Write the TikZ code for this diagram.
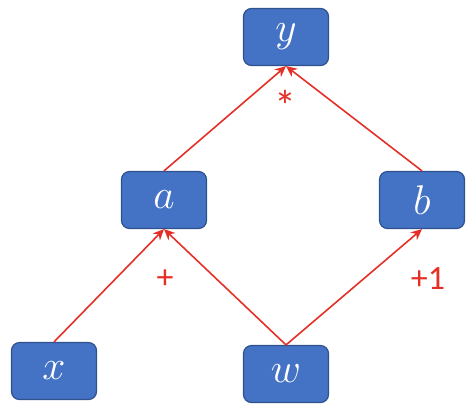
\documentclass[tikz,border=0pt]{standalone}
\usepackage{fontspec}
\setmainfont{Carlito}
\usepackage{tikz}
\usetikzlibrary{arrows.meta}
\usetikzlibrary{positioning}
\definecolor{varfill}{HTML}{4472C4}
\definecolor{varborder}{HTML}{2F528F}
\definecolor{flowred}{RGB}{228,48,38}
\tikzset{
    var/.style={
        draw=varborder,
        fill=varfill,
        rounded corners=4pt,
        line width=0.6pt,
        minimum width=42.5pt,
        minimum height=28.5pt,
        text=white,
        font=\fontsize{22}{24}\selectfont
    },
    flow/.style={
        draw=flowred,
        -{Stealth[length=5.5pt, width=5pt]},
        line width=0.8pt
    },
    op/.style={
        text=flowred,
        font=\fontsize{17}{20}\selectfont
    }
}

\begin{document}
\begin{tikzpicture}[x=0.5pt, y=-0.5pt]
  \useasboundingbox (0,0) rectangle (474,413);

  % Variables
  \node[var] (y) at (286,37) {$y$};
  \node[var] (a) at (164,200) {$a$};
  \node[var] (b) at (422,200) {$b$};
  \node[var] (x) at (54,371) {$x$};
  \node[var] (w) at (286,374) {$w$};

  % Operations
  \draw[flow] (a.north) -- (y.south);
  \draw[flow] (b.north) -- (y.south);
  \draw[flow] (x.north) -- (a.south);
  \draw[flow] (w.north) -- (a.south);
  \draw[flow] (w.north) -- (b.south);

  % Operation labels
  \node[op, font=\fontsize{22}{24}\selectfont] (mul) at (285,106) {*};
  \node[op] (add) at (165,279) {+};
  \node[op] (inc) at (428,279) {+1};
\end{tikzpicture}
\end{document}
